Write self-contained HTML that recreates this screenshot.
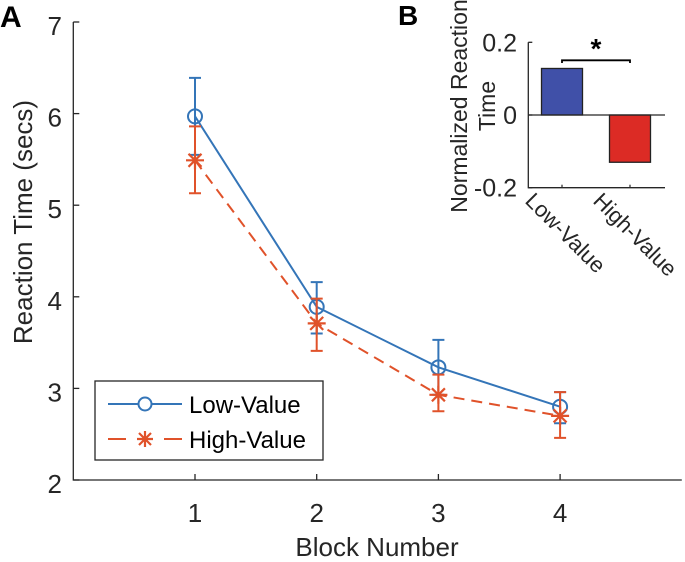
<!DOCTYPE html>
<html><head><meta charset="utf-8"><style>
body{margin:0;background:#fff;}
svg{display:block;font-family:"Liberation Sans",Arial,sans-serif;}
</style></head><body>
<svg id="chart" width="685" height="562" viewBox="0 0 685 562">
<text x="0" y="27" font-size="30" font-weight="bold" fill="#000">A</text>
<text x="398" y="25" font-size="28" font-weight="bold" fill="#000">B</text>
<g id="main"></g>
<g id="inset"></g>
</svg>
<script>
const blocks=[1,2,3,4];
const yTicks=[2,3,4,5,6,7];
const lowMean=[5.97,3.89,3.23,2.80];
const lowUpper=[6.39,4.16,3.53,2.96];
const lowLower=[5.55,3.60,2.93,2.62];
const highMean=[5.49,3.71,2.93,2.70];
const highUpper=[5.86,3.98,3.15,2.96];
const highLower=[5.13,3.41,2.75,2.46];
const insetCats=["Low-Value","High-Value"];
const insetVals=[0.128,-0.13];
const insetTicks=[-0.2,0,0.2];
const insetTickLabels=["-0.2","0","0.2"];

const NS="http://www.w3.org/2000/svg";
function mk(parent,tag,attrs){const e=document.createElementNS(NS,tag);for(const k in attrs)e.setAttribute(k,attrs[k]);parent.appendChild(e);return e;}
const X=v=>73.3+v*121.7;
const Y=v=>480-(v-2)*91.6;
const G=document.getElementById('main');
const axc="#262626";
let a=mk(G,'path',{d:`M${X(0)},${Y(7)}V${Y(2)}H${X(5)}`,fill:'none',stroke:axc,'stroke-width':1.3});

yTicks.forEach(t=>{
 const l=mk(G,'line',{x1:X(0),x2:X(0)+6,y1:Y(t),y2:Y(t),stroke:axc,'stroke-width':1.3});
 
 const tx=mk(G,'text',{x:62,y:Y(t)+13,'font-size':26,fill:axc,'text-anchor':'end'});tx.textContent=t;
 
});
blocks.forEach(b=>{
 const l=mk(G,'line',{x1:X(b),x2:X(b),y1:Y(2),y2:Y(2)-6,stroke:axc,'stroke-width':1.3});
 
 const tx=mk(G,'text',{x:X(b),y:522,'font-size':26,fill:axc,'text-anchor':'middle'});tx.textContent=b;
 
});
let t1=mk(G,'text',{x:377,y:556,'font-size':26,fill:axc,'text-anchor':'middle'});t1.textContent='Block Number';

let t2=mk(G,'text',{x:0,y:0,'font-size':26,fill:axc,'text-anchor':'middle',transform:`translate(32,222) rotate(-90)`});t2.textContent='Reaction Time (secs)';


const blue="#3475b8",red="#e0522a";
function series(mean,up,lo,color,dash,name){
 const g=mk(G,'g',{});
 
 const p=mk(g,'polyline',{points:blocks.map((b,i)=>X(b)+','+Y(mean[i])).join(' '),fill:'none',stroke:color,'stroke-width':2,'stroke-dasharray':dash});
 
 blocks.forEach((b,i)=>{
  const e=mk(g,'path',{d:`M${X(b)},${Y(up[i])}V${Y(lo[i])}M${X(b)-6},${Y(up[i])}h12M${X(b)-6},${Y(lo[i])}h12`,stroke:color,'stroke-width':2,fill:'none'});
  
  let m;
  if(name==='low-value'){m=mk(g,'circle',{cx:X(b),cy:Y(mean[i]),r:7,fill:'none',stroke:color,'stroke-width':2});}
  else{const cx=X(b),cy=Y(mean[i]);m=mk(g,'path',{d:`M${cx-9},${cy}h18M${cx},${cy-9}v18M${cx-6.5},${cy-6.5}l13,13M${cx-6.5},${cy+6.5}l13,-13`,stroke:color,'stroke-width':2.2});}
  
 });
}
series(lowMean,lowUpper,lowLower,blue,'none','low-value');
series(highMean,highUpper,highLower,red,'11 7','high-value');

const L=mk(G,'g',{});
mk(L,'rect',{x:95,y:381,width:228,height:79,fill:'#fff',stroke:axc,'stroke-width':1.3});
const le1=mk(L,'g',{});
mk(le1,'line',{x1:108,x2:182,y1:404,y2:404,stroke:blue,'stroke-width':2});
mk(le1,'circle',{cx:145,cy:404,r:6.5,fill:'#fff',stroke:blue,'stroke-width':2});
let lt=mk(le1,'text',{x:189,y:413,'font-size':24,fill:'#000'});lt.textContent='Low-Value';
const le2=mk(L,'g',{});
mk(le2,'path',{d:'M108,439h18M164,439h18',stroke:red,'stroke-width':2});
mk(le2,'path',{d:'M137,439h16M145,431v16M139,433l12,12M139,445l12,-12',stroke:red,'stroke-width':2.2});
lt=mk(le2,'text',{x:189,y:448,'font-size':24,fill:'#000'});lt.textContent='High-Value';

const I=document.getElementById('inset');
const IX0=528.3,IX1=665;
const IY=v=>115-v*363.5;
const IC=i=>562+i*68;
let ia=mk(I,'path',{d:`M${IX0},${IY(0.2)}V${IY(-0.2)}H${IX1}`,fill:'none',stroke:axc,'stroke-width':1.3});

insetTicks.forEach((t,i)=>{
 mk(I,'line',{x1:IX0,x2:IX0+4,y1:IY(t),y2:IY(t),stroke:axc,'stroke-width':1.3});
 const tx=mk(I,'text',{x:517,y:IY(t)+9,'font-size':25,fill:axc,'text-anchor':'end'});tx.textContent=insetTickLabels[i];
 
});
const colors=["#4050a8","#dc2b25"];
insetCats.forEach((c,i)=>{
 const v=insetVals[i];
 const r=mk(I,'rect',{x:IC(i)-20.5,y:Math.min(IY(v),IY(0)),width:41,height:Math.abs(IY(v)-IY(0)),fill:colors[i],stroke:'#222','stroke-width':1.3});
 
 mk(I,'line',{x1:IC(i),x2:IC(i),y1:IY(-0.2),y2:IY(-0.2)-3,stroke:axc,'stroke-width':1.2});
 const tx=mk(I,'text',{x:0,y:0,'font-size':22,fill:axc,transform:`translate(${IC(i)-38},${202}) rotate(45)`});tx.textContent=c;
 
});
let zl=mk(I,'line',{x1:IX0,x2:IX1,y1:IY(0),y2:IY(0),stroke:axc,'stroke-width':1.3});

let br=mk(I,'path',{d:`M${IC(0)},63V60.3H${IC(1)}V63`,fill:'none',stroke:'#000','stroke-width':1.8});

let st=mk(I,'text',{x:596,y:58,'font-size':28,'font-weight':'bold','text-anchor':'middle',fill:'#000'});st.textContent='*';

let iy=mk(I,'text',{x:0,y:0,'font-size':23,fill:axc,'text-anchor':'middle',transform:'translate(467,106) rotate(-90)'});

const ts1=mk(iy,'tspan',{x:0,dy:0});ts1.textContent='Normalized Reaction';
const ts2=mk(iy,'tspan',{x:0,dy:28});ts2.textContent='Time';
</script>
</body></html>
